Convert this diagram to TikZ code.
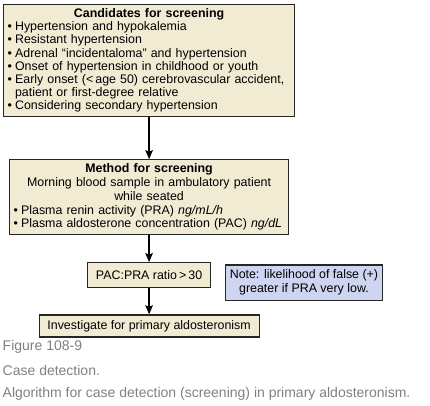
\documentclass[tikz,border=0pt]{standalone}
\usepackage{fontspec}
\setmainfont{Liberation Sans}
\usetikzlibrary{arrows.meta,positioning}
\definecolor{boxcream}{RGB}{241,235,211}
\definecolor{noteblue}{RGB}{206,213,240}
\definecolor{capgray}{RGB}{128,128,128}
\newcommand{\bline}[1]{\par\noindent\makebox[7.5pt][l]{\textbullet}#1}
\newcommand{\bcont}{\newline\hspace*{7.5pt}}

\begin{document}
\begin{tikzpicture}[-{Stealth[length=9pt,width=7.5pt,inset=1.5pt]},x=1pt,y=1pt,line width=1.4pt,
  step box/.style={rectangle,draw=black!85,fill=boxcream,line width=1.2pt,
    inner xsep=4pt,inner ysep=3.5pt,font=\fontsize{12.4}{13.2}\selectfont},
  note box/.style={step box,fill=noteblue,align=center,inner ysep=5pt,
    font=\fontsize{12.4}{14}\selectfont},
  caption/.style={anchor=west,inner sep=0pt,text=capgray,
    font=\fontsize{14}{16}\selectfont}]

 \useasboundingbox (0,0) rectangle (430,-405);

 \node[step box,anchor=north west,text width=283pt,inner ysep=4pt] (cand) at (3,-4)
   {{\centering\bfseries Candidates for screening\par}\raggedright
    \bline{Hypertension and hypokalemia}
    \bline{Resistant hypertension}
    \bline{Adrenal ``incidentaloma'' and hypertension}
    \bline{Onset of hypertension in childhood or youth}
    \bline{Early onset (<\,age 50) cerebrovascular accident,\bcont patient or first-degree relative}
    \bline{Considering secondary hypertension}};
 \node[step box,text width=271pt,inner ysep=4pt,font=\fontsize{12.4}{13.8}\selectfont]
   (method) [below=42pt of cand]
   {{\centering\bfseries Method for screening\par}
    {\centering Morning blood sample in ambulatory patient\\ while seated\par}\raggedright
    \bline{\mbox{Plasma renin activity (PRA) \textit{ng/mL/h}}}
    \bline{\mbox{Plasma aldosterone concentration (PAC) \textit{ng/dL}}}};
 \node[step box,minimum width=123pt,minimum height=25pt] (ratio) [below=27pt of method]
   {PAC:PRA ratio\,>\,30};
 \node[step box,minimum width=220pt,minimum height=22pt] (invest) [below=26pt of ratio]
   {Investigate for primary aldosteronism};
 \node[note box,minimum width=155pt] (note) [right=14pt of ratio,yshift=-7.5pt]
   {Note: likelihood of false (+)\\ greater if PRA very low.};

 \node[caption] (fig) at (2,-347) {Figure 108-9};
 \node[caption] (case) at (2,-370) {Case detection.};
 \node[caption] (algo) at (2,-394) {Algorithm for case detection (screening) in primary aldosteronism.};

 \path
    (cand)   edge (method)
    (method) edge (ratio)
    (ratio)  edge (invest);

\end{tikzpicture}
\end{document}
